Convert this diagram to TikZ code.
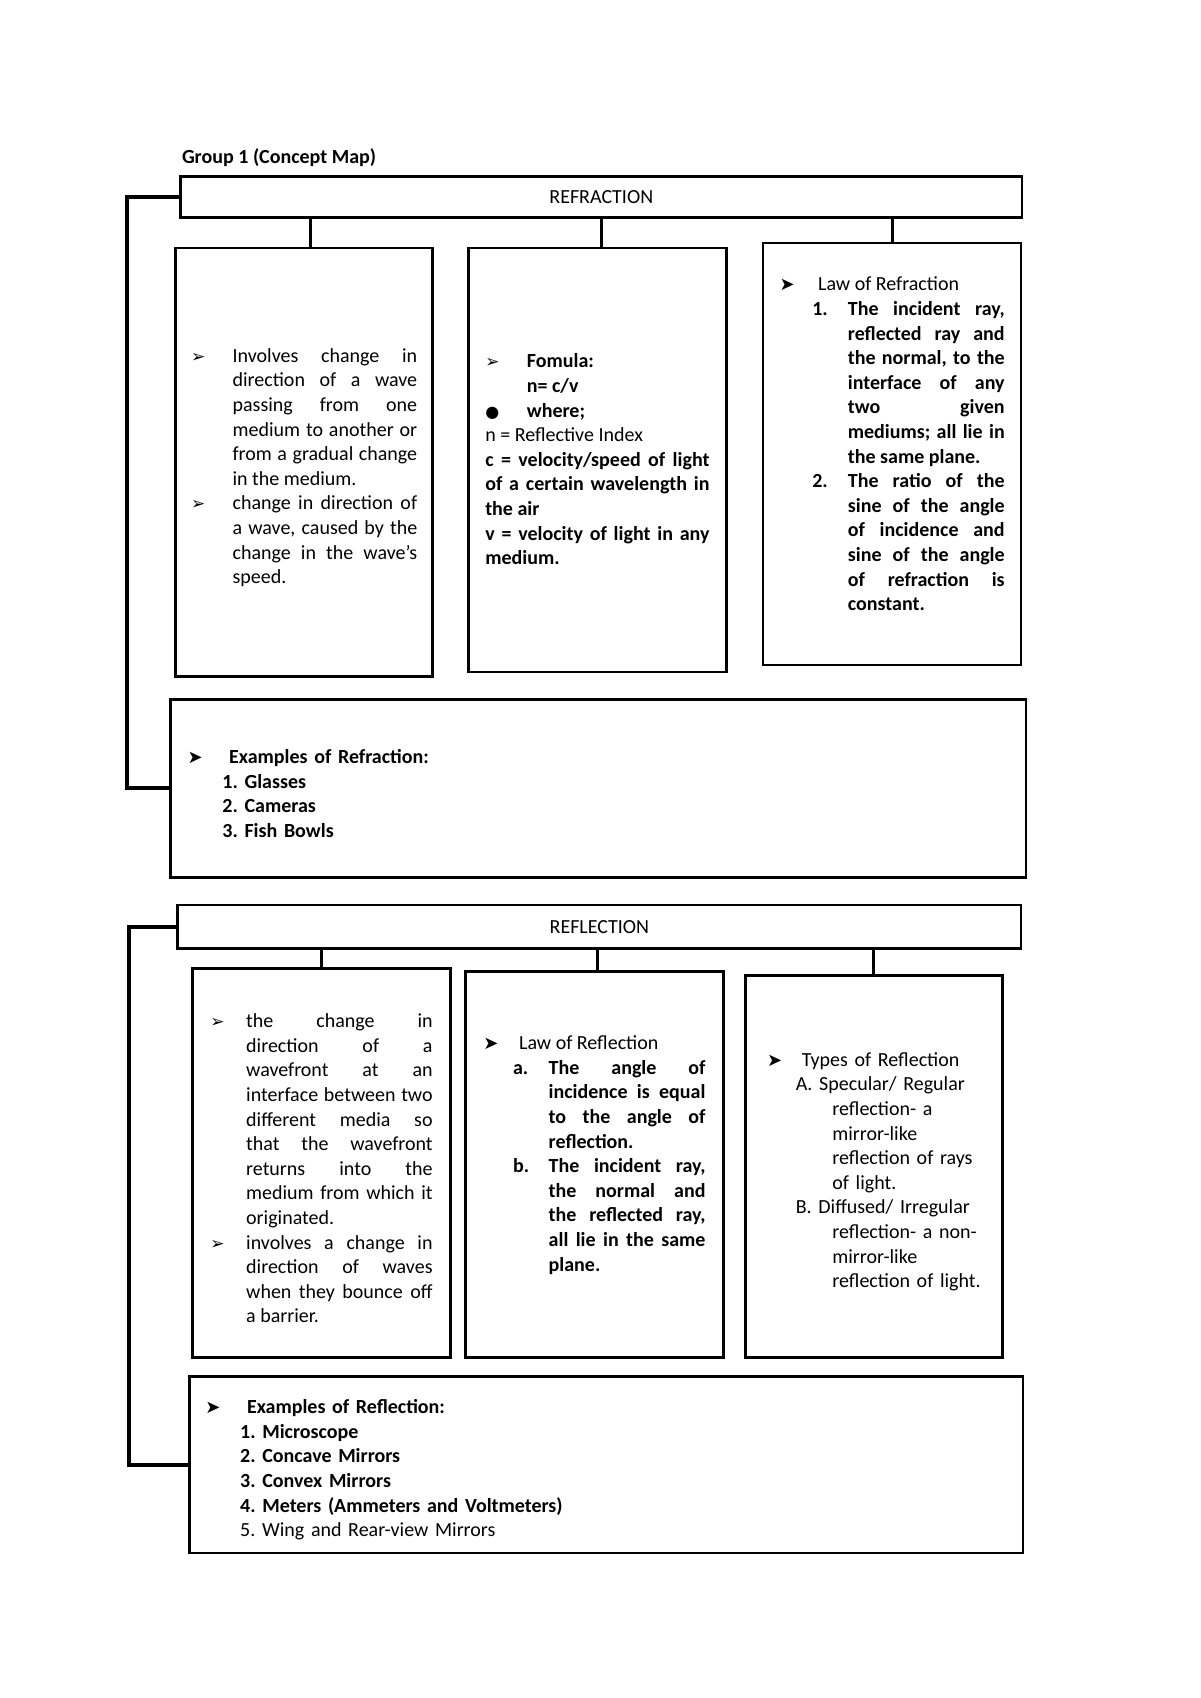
\documentclass[tikz,border=0pt]{standalone}
\usepackage{fontspec}
\setmainfont{Carlito}
\newfontfamily\dingfont{DejaVu Sans}
\usetikzlibrary{positioning}

\hyphenpenalty=10000
\exhyphenpenalty=10000
\tolerance=10000
\hbadness=10000
\frenchspacing

\newcommand{\openarr}{{\dingfont\fontsize{8.5}{8.5}\selectfont ➢}}
\newcommand{\fullarr}{{\dingfont\fontsize{9}{9}\selectfont ➤}}
\newcommand{\blackdot}{{\dingfont\fontsize{8}{8}\selectfont ●}}
% item with a symbol, hanging text
\newcommand{\hangitem}[3]{\par\noindent\hangindent=#2\hangafter=1\makebox[#2][l]{#1}#3}
% numbered item: number indent, text indent, number, text
\newcommand{\numitem}[4]{\par\noindent\hangindent=#2\hangafter=1\hspace*{#1}\makebox[\dimexpr#2-#1\relax][l]{#3}#4}
\newcommand{\liftup}[1]{\rule[-#1]{0pt}{#1}}

\begin{document}
\begin{tikzpicture}[x=0.5pt, y=-0.5pt,
    conceptbox/.style={draw, line width=1.3pt, inner sep=0pt, align=justify,
        font=\fontsize{10}{12.3}\selectfont},
    listbox/.style={conceptbox, align=left},
    headbox/.style={draw, line width=1.3pt, inner sep=0pt,
        font=\fontsize{10}{12.3}\selectfont},
    link/.style={line width=1.6pt},
    bracket/.style={line width=2pt}]
    \useasboundingbox (0,0) rectangle (1200,1698);

    \node[anchor=west, inner sep=0pt, font=\bfseries\fontsize{10}{12}\selectfont] (title) at (181.6,157.8) {Group 1 (Concept Map)};

    % Refraction
    \node[headbox, minimum width=420.7pt, minimum height=20.3pt] (refr) at (601.3,197) {REFRACTION};

    \node[conceptbox, minimum width=128.5pt, minimum height=214.3pt, text width=113.1pt] (defrefr) at (304.1,462.4) {%
        \hangitem{\openarr}{20.8pt}{Involves change in\linebreak direction of a wave\linebreak passing from one\linebreak medium to another or\linebreak from a gradual change\linebreak in the medium.}
        \hangitem{\openarr}{20.8pt}{change in direction of\linebreak a wave, caused by the\linebreak change in the wave's\linebreak speed.}\par};

    \node[conceptbox, minimum width=129pt, minimum height=211.9pt, text width=112.1pt] (formula) at (597.4,459.9) {%
        \hangitem{\openarr}{20.8pt}{\textbf{Fomula:}}
        \par\noindent\hspace*{20.8pt}\textbf{n= c/v}
        \hangitem{\blackdot}{20.8pt}{\textbf{where;}}
        \par\noindent n = Reflective Index
        \par\noindent\textbf{c = velocity/speed of light\linebreak of a certain wavelength in\linebreak the air}
        \par\noindent\textbf{v = velocity of light in any\linebreak medium.}\liftup{6pt}\par};

    \node[conceptbox, minimum width=129pt, minimum height=210.9pt, text width=112.6pt] (lawrefr) at (892.1,454) {%
        \hangitem{\fullarr}{19.3pt}{Law of Refraction}
        \numitem{16.4pt}{34.2pt}{\textbf{1.}}{\textbf{The incident ray,\linebreak reflected ray and\linebreak the normal, to the\linebreak interface of any\linebreak two given\linebreak mediums; all lie in\linebreak the same plane.}}
        \numitem{16.4pt}{34.2pt}{\textbf{2.}}{\textbf{The ratio of the\linebreak sine of the angle\linebreak of incidence and\linebreak sine of the angle\linebreak of refraction is\linebreak constant.}\liftup{15.5pt}}\par};

    \node[listbox, minimum width=427.7pt, minimum height=88.8pt, text width=410.8pt, font=\bfseries\fontsize{10}{12.3}\selectfont] (exrefr) at (598.4,788.4) {%
        \hangitem{\fullarr}{20.8pt}{Examples of Refraction:}
        \par\noindent\hspace*{17.4pt}1. Glasses
        \par\noindent\hspace*{17.4pt}2. Cameras
        \par\noindent\hspace*{17.4pt}3. Fish Bowls\par};

    \coordinate (drop1) at ([xshift=3.3pt]defrefr.north);
    \coordinate (drop2) at ([xshift=2.2pt]formula.north);
    \draw[link] (drop1) -- (drop1 |- refr.south);
    \draw[link] (drop2) -- (drop2 |- refr.south);
    \draw[link] (lawrefr.north) -- (lawrefr.north |- refr.south);
    \draw[bracket] (refr.west) -- ++(-52.6,0) |- (exrefr.west);

    % Reflection
    \node[headbox, minimum width=421.7pt, minimum height=21.8pt] (refl) at (599.4,926.8) {REFLECTION};

    \node[conceptbox, minimum width=129pt, minimum height=194.5pt, text width=111.1pt] (defrefl) at (321.5,1163) {%
        \hangitem{\openarr}{17.9pt}{the change in\linebreak direction of a\linebreak wavefront at an\linebreak interface between two\linebreak different media so\linebreak that the wavefront\linebreak returns into the\linebreak medium from which it\linebreak originated.}
        \hangitem{\openarr}{17.9pt}{involves a change in\linebreak direction of waves\linebreak when they bounce off\linebreak a barrier.}\par};

    \node[conceptbox, minimum width=129pt, minimum height=193pt, text width=111.1pt] (lawrefl) at (594.4,1164.5) {%
        \hangitem{\fullarr}{17.9pt}{Law of Reflection}
        \numitem{14.9pt}{32.7pt}{\textbf{a.}}{\textbf{The angle of\linebreak incidence is equal\linebreak to the angle of\linebreak reflection.}}
        \numitem{14.9pt}{32.7pt}{\textbf{b.}}{\textbf{The incident ray,\linebreak the normal and\linebreak the reflected ray,\linebreak all lie in the same\linebreak plane.}\liftup{16.5pt}}\par};

    \node[listbox, minimum width=128.5pt, minimum height=191pt, text width=106.7pt] (typesrefl) at (873.7,1166.4) {%
        \hangitem{\fullarr}{17.4pt}{Types of Reflection}
        \par\noindent\hangindent=32.7pt\hangafter=1\hspace*{14.4pt}A. Specular/ Regular\newline reflection- a\newline mirror-like\newline \mbox{reflection of rays}\newline of light.
        \par\noindent\hangindent=32.7pt\hangafter=1\hspace*{14.4pt}B. Diffused/ Irregular\newline \mbox{reflection- a non-}\newline mirror-like\newline \mbox{reflection of light.}\par};

    \node[listbox, minimum width=416.8pt, minimum height=88.3pt, text width=400.9pt, font=\bfseries\fontsize{10}{12.3}\selectfont] (exrefl) at (606.3,1464.6) {%
        \hangitem{\fullarr}{20.8pt}{Examples of Reflection:}
        \par\noindent\hspace*{17.4pt}1. Microscope
        \par\noindent\hspace*{17.4pt}2. Concave Mirrors
        \par\noindent\hspace*{17.4pt}3. Convex Mirrors
        \par\noindent\hspace*{17.4pt}4. Meters (Ammeters and Voltmeters)
        \par\noindent\hspace*{17.4pt}{\mdseries 5. Wing and Rear-view Mirrors}\par};

    \coordinate (drop5) at ([xshift=1.5pt]lawrefl.north);
    \draw[link] (defrefl.north) -- (defrefl.north |- refl.south);
    \draw[link] (drop5) -- (drop5 |- refl.south);
    \draw[link] (typesrefl.north) -- (typesrefl.north |- refl.south);
    \draw[bracket] (refl.west) -- ++(-47.6,0) |- (exrefl.west);
\end{tikzpicture}
\end{document}
